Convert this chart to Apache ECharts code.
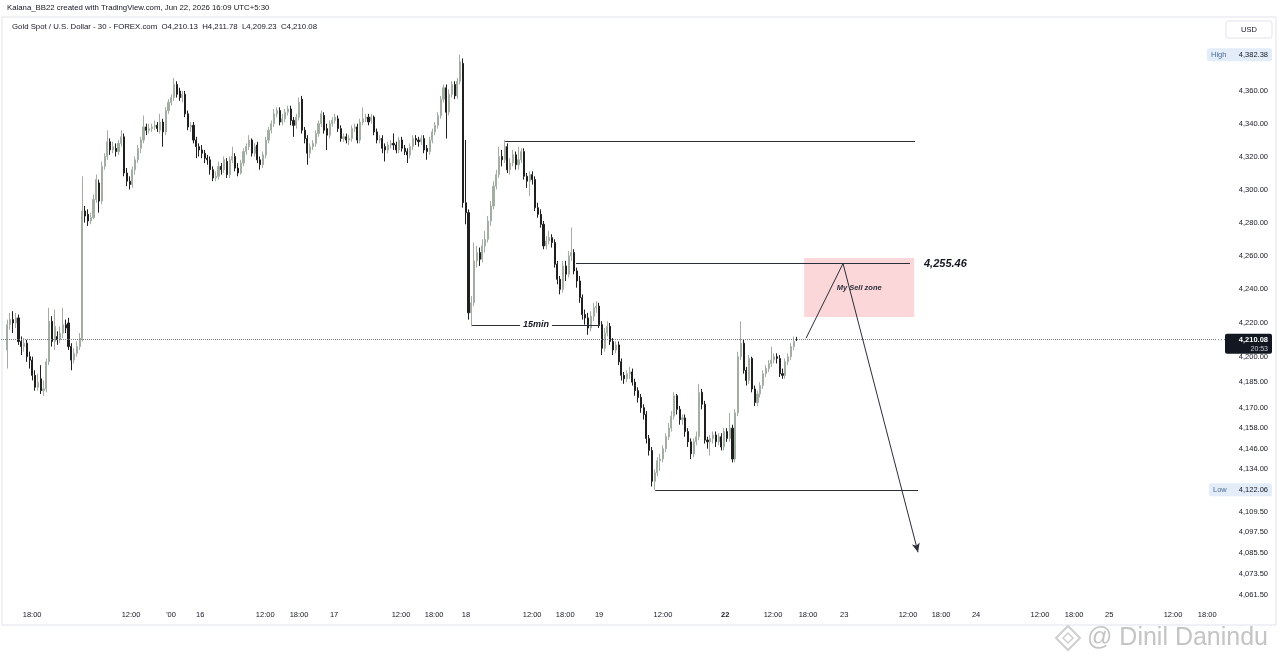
<!DOCTYPE html>
<html>
<head>
<meta charset="utf-8">
<script src="https://cdn.jsdelivr.net/npm/echarts@6.0.0/dist/echarts.min.js"></script>
<style>
html, body { margin: 0; padding: 0; background: #fff; }
#chart { width: 1280px; height: 664px; }
</style>
</head>
<body>
<div id="chart"></div>
<script>
// 30 min candles, [open, close, low, high]
const baseRange = [
  [4204,4219,4193,4222],[4219,4222,4216,4226],[4222,4220,4214,4227],[4220,4223,4217,4226],
  [4223,4209,4207,4225],[4209,4206,4201,4212],[4206,4208,4203,4211],[4208,4200,4197,4210],
  [4200,4198,4193,4203],[4198,4189,4186,4200],[4189,4182,4180,4192],[4182,4185,4180,4190],
  [4187,4180,4178,4195],[4180,4181,4177,4186],[4181,4197,4179,4199],[4197,4221,4195,4229],
  [4221,4209,4206,4224],[4209,4218,4204,4228],[4212,4210,4207,4215],[4210,4214,4208,4218],
  [4214,4219,4211,4229],[4219,4217,4214,4222],[4220,4206,4204,4223],[4206,4198,4192,4208],
  [4198,4202,4196,4205],[4202,4206,4200,4209],[4206,4211,4204,4214]
];
const gapRally = [
  [4211,4287,4209,4308],[4287,4284,4280,4290],[4285,4281,4278,4288],[4281,4283,4279,4286],
  [4283,4294,4282,4297],[4294,4306,4292,4309],[4304,4293,4286,4306],[4293,4314,4291,4317],
  [4314,4320,4312,4322],[4320,4329,4318,4336],[4329,4324,4321,4331],[4324,4326,4322,4329],
  [4325,4323,4320,4328],[4323,4328,4321,4330],[4328,4332,4326,4336],[4332,4310,4308,4334],
  [4310,4305,4302,4313],[4305,4303,4300,4308],[4303,4312,4301,4314],[4312,4318,4309,4320],
  [4318,4325,4316,4327],[4325,4330,4322,4332],[4330,4338,4328,4345],[4338,4336,4333,4340],
  [4336,4337,4334,4340],[4337,4338,4335,4340],[4338,4339,4336,4342],[4339,4337,4335,4341],
  [4336,4341,4334,4346],[4341,4335,4326,4343],[4335,4348,4333,4350],[4348,4353,4346,4355],
  [4353,4356,4351,4358],[4356,4364,4354,4368],[4364,4358,4356,4366],[4360,4356,4354,4362],
  [4356,4358,4353,4360],[4358,4346,4344,4360],[4346,4338,4336,4348],[4338,4339,4335,4341],
  [4339,4330,4328,4341],[4330,4326,4319,4332]
];
const plateau = [
  [4326,4324,4320,4328],[4324,4322,4319,4327],[4322,4319,4316,4324],[4319,4318,4315,4321],
  [4318,4312,4309,4320],[4312,4307,4305,4314],[4307,4308,4305,4311],[4308,4314,4306,4317],
  [4314,4312,4309,4316],[4312,4318,4310,4320],[4317,4309,4307,4319],[4309,4318,4307,4320],
  [4318,4320,4316,4326],[4320,4313,4311,4322],[4313,4310,4308,4316],[4310,4316,4309,4318],
  [4316,4323,4314,4325],[4323,4326,4321,4328],[4326,4330,4324,4333],[4330,4322,4320,4331],
  [4322,4326,4320,4328],[4327,4318,4316,4329],[4318,4315,4312,4320],[4315,4321,4313,4323],
  [4321,4330,4319,4332],[4330,4336,4328,4338],[4336,4340,4334,4342],[4340,4346,4338,4349],
  [4346,4348,4344,4350],[4348,4341,4339,4350],[4341,4343,4339,4346],[4343,4347,4341,4349],
  [4347,4349,4345,4351],[4349,4342,4339,4351],[4342,4339,4332,4344],[4339,4344,4337,4346],
  [4344,4353,4342,4356],[4355,4336,4334,4357],[4336,4331,4328,4338],[4331,4322,4315,4333],
  [4322,4326,4319,4328],[4326,4328,4324,4330],[4328,4334,4326,4336],[4334,4340,4332,4342],
  [4340,4346,4338,4348],[4345,4336,4334,4347],[4337,4333,4324,4340],[4333,4340,4331,4342],
  [4340,4342,4338,4344],[4342,4344,4340,4346],[4343,4337,4335,4345],[4337,4331,4329,4339],
  [4331,4332,4329,4334],[4332,4330,4328,4334],[4330,4331,4327,4333],[4331,4337,4329,4339],
  [4337,4338,4335,4340],[4338,4330,4328,4340],[4330,4341,4328,4343],[4341,4343,4339,4350],
  [4343,4344,4341,4346],[4344,4341,4339,4346],[4342,4344,4340,4346],[4344,4335,4333,4345],
  [4335,4330,4328,4337],[4330,4331,4328,4333],[4331,4325,4322,4333],[4326,4324,4317,4328],
  [4324,4327,4322,4329],[4327,4328,4325,4330],[4328,4327,4324,4334],[4327,4324,4322,4329],
  [4324,4330,4322,4332],[4330,4325,4323,4332],[4325,4323,4321,4327],[4323,4321,4316,4325],
  [4321,4326,4319,4328],[4326,4331,4324,4333],[4331,4330,4327,4333],[4330,4329,4326,4332],
  [4329,4331,4327,4333],[4331,4324,4322,4333],[4325,4323,4318,4327],[4323,4330,4321,4332],
  [4330,4335,4328,4337],[4335,4339,4333,4341],[4339,4345,4337,4347],[4345,4355,4343,4357],
  [4355,4362,4353,4364],[4362,4347,4331,4364],[4347,4358,4345,4361],[4358,4364,4356,4366],
  [4364,4357,4355,4366],[4357,4366,4355,4368],[4366,4378,4364,4382.38]
];
const selloff = [
  [4377,4292,4289,4380],[4292,4286,4279,4330],[4286,4226,4222,4288],[4226,4232,4218,4236],
  [4232,4257,4230,4268],[4257,4262,4253,4266],[4262,4258,4254,4265],[4258,4266,4256,4270],
  [4266,4270,4262,4275],[4270,4281,4268,4284],[4281,4290,4278,4293],[4290,4302,4288,4305],
  [4302,4309,4300,4312],[4309,4320,4307,4326],[4320,4318,4314,4324],[4318,4326,4316,4330],
  [4326,4312,4310,4328],[4312,4316,4309,4319],[4316,4321,4314,4324],[4321,4315,4312,4323],
  [4315,4318,4312,4326],[4318,4323,4316,4325],[4323,4308,4306,4325],[4308,4305,4301,4310],
  [4305,4309,4296,4311],[4309,4306,4303,4311],[4306,4289,4287,4308],[4289,4285,4283,4292],
  [4285,4279,4277,4288],[4279,4266,4264,4281],[4266,4269,4264,4272],[4269,4271,4267,4275],
  [4271,4268,4265,4273],[4268,4255,4253,4270],[4255,4246,4243,4257],[4246,4240,4237,4248],
  [4240,4254,4238,4257],[4254,4249,4245,4257],[4249,4260,4247,4263],[4260,4262,4257,4277],
  [4262,4251,4249,4264],[4251,4245,4241,4253],[4245,4235,4232,4248],[4235,4225,4222,4237],
  [4225,4223,4219,4228],[4223,4217,4213,4226],[4217,4224,4215,4227],[4224,4229,4221,4232],
  [4229,4230,4226,4233]
];
const decline = [
  [4230,4219,4217,4232],[4219,4205,4201,4221],[4205,4214,4203,4217],[4214,4218,4212,4221],
  [4218,4209,4207,4220],[4209,4204,4201,4211],[4204,4207,4202,4209],[4207,4197,4195,4209],
  [4197,4189,4186,4199],[4189,4187,4184,4191],[4187,4190,4185,4192],[4190,4191,4187,4194],
  [4191,4185,4183,4193],[4185,4180,4177,4187],[4180,4176,4173,4182],[4176,4170,4167,4178],
  [4170,4166,4163,4172],[4166,4152,4149,4168],[4152,4145,4142,4154],[4145,4127,4124,4147],
  [4127,4132,4122.06,4134]
];
const rebound = [
  [4132,4139,4130,4141],[4139,4140,4133,4143],[4140,4146,4138,4148],[4146,4153,4144,4155],
  [4153,4158,4151,4161],[4158,4165,4156,4168],[4165,4177,4163,4179],[4177,4169,4166,4178],
  [4169,4163,4160,4171],[4163,4164,4160,4166],[4164,4156,4153,4166],[4156,4150,4147,4158],
  [4150,4143,4140,4152],[4143,4150,4141,4152],[4150,4153,4148,4156],[4153,4179,4151,4184],
  [4179,4172,4169,4181],[4172,4151,4149,4174],[4151,4150,4146,4153],[4150,4152,4142,4154],
  [4152,4154,4149,4156],[4154,4150,4147,4156],[4150,4153,4148,4155],[4153,4147,4145,4155],
  [4147,4156,4145,4158],[4156,4152,4150,4158],[4152,4158,4150,4167],[4158,4140,4138,4160],
  [4140,4167,4138,4169],[4167,4200,4165,4203],[4200,4208,4198,4221],[4208,4192,4190,4210],
  [4192,4186,4183,4194],[4186,4199,4184,4201],[4199,4181,4179,4200],[4181,4173,4171,4183],
  [4173,4178,4171,4180],[4178,4183,4176,4185],[4183,4190,4181,4192],[4190,4193,4188,4195],
  [4193,4196,4191,4198],[4196,4198,4194,4206],[4198,4200,4196,4202],[4200,4199,4196,4202],
  [4199,4190,4188,4201],[4190,4189,4187,4193],[4189,4197,4187,4199],[4197,4200,4195,4202],
  [4200,4206,4198,4208],[4206,4209,4204,4212],[4210.13,4210.08,4209.23,4211.78]
];
const candles = [].concat(baseRange, gapRally, plateau, selloff, decline, rebound);

// price scale labels
const yTickValues = [4360, 4340, 4320, 4300, 4280, 4260, 4240, 4220, 4200, 4185, 4170,
  4158, 4146, 4134, 4109.5, 4097.5, 4085.5, 4073.5, 4061.5];
// time scale labels (position in bar index, text)
const xTickPos = [8.9, 44.5, 58.9, 69.4, 92.8, 105, 117.6, 141.7, 153.6, 165.1, 188.9, 200.8,
  213, 236, 258.4, 275.6, 288.2, 301.2, 324.2, 336.1, 348.7, 371.7, 384, 396.6, 419.6, 431.9];
const xTickText = ['18:00', '12:00', "'00", '16', '12:00', '18:00', '17', '12:00', '18:00', '18',
  '12:00', '18:00', '19', '12:00', '22', '12:00', '18:00', '23', '12:00', '18:00', '24', '12:00',
  '18:00', '25', '12:00', '18:00'];

// drawn levels
const highPrice = 4382.38;
const lowPrice = 4122.06;
const lastClose = 4210.08;
const topLevel = 4329.4;
const sellLevel = 4255.46;
const fifteenLevel = 4218.8;
const fifteenSpan = [167.3, 213.3];
const zoneTop = 4258.7;
const zoneBottom = 4223.5;
const arrowStart = 4211;
const arrowTarget = 4086;

const fmt = v => {
  const parts = v.toFixed(2).split('.');
  return parts[0].replace(/\B(?=(\d{3})+$)/g, ',') + '.' + parts[1];
};

const FONT = 'Liberation Sans';
const chart = echarts.init(document.getElementById('chart'));

chart.setOption({
  animation: false,
  backgroundColor: '#ffffff',
  grid: {left: 1, right: 65, top: 35, bottom: 59},
  xAxis: {
    type: 'value',
    min: -2.3,
    max: 434.7,
    axisLine: {show: false},
    axisTick: {show: false},
    splitLine: {show: false},
    axisLabel: {
      customValues: xTickPos,
      margin: 6,
      color: '#131722',
      fontFamily: FONT,
      fontSize: 7.5,
      formatter: v => {
        const k = xTickPos.findIndex(p => Math.abs(p - v) < 0.01);
        if (k < 0) return '';
        return xTickText[k] === '22' ? '{b|22}' : xTickText[k];
      },
      rich: {b: {fontWeight: 'bold', fontSize: 7.5, fontFamily: FONT, color: '#131722'}}
    }
  },
  yAxis: {
    type: 'log',
    logBase: 10,
    position: 'right',
    min: 4055.8,
    max: 4394.5,
    axisLine: {show: false},
    axisTick: {show: false},
    splitLine: {show: false},
    axisLabel: {
      customValues: yTickValues,
      align: 'right',
      margin: 53,
      color: '#131722',
      fontFamily: FONT,
      fontSize: 7.5,
      formatter: v => fmt(v)
    }
  },
  series: [{
    type: 'candlestick',
    data: candles.map((c, i) => [i, c[0], c[1], c[2], c[3]]),
    encode: {x: 0, y: [1, 2, 3, 4]},
    barWidth: 1.6,
    itemStyle: {
      color: '#a3aea3', color0: '#1f1f1f',
      borderColor: '#a3aea3', borderColor0: '#1f1f1f', borderWidth: 1
    },
    markLine: {
      silent: true,
      animation: false,
      symbol: 'none',
      label: {show: false},
      lineStyle: {color: '#2a2e39', width: 1, type: 'solid'},
      data: [
        {yAxis: lastClose, lineStyle: {type: 'dotted', color: '#787b86', width: 1}},
        [{coord: [179.2, topLevel]}, {coord: [326.7, topLevel]}],
        [{coord: [204.7, sellLevel], label: {
          show: true, position: 'end', distance: 14, formatter: '4,255.46',
          fontFamily: FONT, fontSize: 11, fontWeight: 'bold', fontStyle: 'italic', color: '#131722'
        }}, {coord: [324.9, sellLevel]}],
        [{coord: [fifteenSpan[0], fifteenLevel]}, {coord: [fifteenSpan[1], fifteenLevel]}],
        [{coord: [233.2, lowPrice]}, {coord: [327.8, lowPrice]}],
        [{coord: [287.5, arrowStart]}, {coord: [300.8, sellLevel]}],
        [{coord: [300.8, sellLevel]}, {coord: [327.8, arrowTarget], symbol: 'arrow', symbolSize: [6, 9]}]
      ]
    },
    markArea: {
      silent: true,
      data: [[
        {coord: [286.8, zoneTop], itemStyle: {color: 'rgba(242,54,69,0.2)'}, label: {
          show: true, position: 'inside', formatter: 'My Sell zone',
          fontFamily: FONT, fontSize: 7.5, fontWeight: 'bold', fontStyle: 'italic', color: '#2a2e39'
        }},
        {coord: [326.4, zoneBottom]}
      ]]
    }
  }]
});

// price tags on the right scale, the "15min" tag and page decorations
const py = v => chart.convertToPixel({yAxisIndex: 0}, v);
const px = v => chart.convertToPixel({xAxisIndex: 0}, v);
const yHigh = py(highPrice), yLow = py(lowPrice), yLast = py(lastClose);
const txt = (x, y, s, style) => ({
  type: 'text', x, y, z: 100, silent: true,
  style: Object.assign({text: s, fontFamily: FONT, fontSize: 7.5, fill: '#131722',
    verticalAlign: 'middle', align: 'left'}, style || {})
});
const box = (x, y, w, h, style) => ({
  type: 'rect', z: 99, silent: true, shape: {x, y, width: w, height: h, r: 2}, style
});

chart.setOption({
  graphic: [
    {type: 'rect', silent: true, shape: {x: 2, y: 17, width: 1274, height: 608},
      style: {fill: 'none', stroke: '#e0e3eb', lineWidth: 1}},
    txt(7, 8, 'Kalana_BB22 created with TradingView.com, Jun 22, 2026 16:09 UTC+5:30', {fontSize: 7.8}),
    txt(12, 27, 'Gold Spot / U.S. Dollar - 30 - FOREX.com  O4,210.13  H4,211.78  L4,209.23  C4,210.08', {fontSize: 7.8}),
    box(1226, 21, 46, 17, {fill: '#fff', stroke: '#e0e3eb', lineWidth: 1}),
    txt(1249, 29.5, 'USD', {align: 'center'}),
    txt((px(fifteenSpan[0]) + px(fifteenSpan[1])) / 2, py(fifteenLevel), '15min', {
      align: 'center', fontSize: 9, fontWeight: 'bold', fontStyle: 'italic',
      backgroundColor: '#ffffff', padding: [1, 3]
    }),
    box(1207, yHigh - 6.5, 65, 13, {fill: '#e3edf9'}),
    txt(1211, yHigh, 'High', {fill: '#4a6a96'}),
    txt(1268, yHigh, fmt(highPrice), {align: 'right'}),
    box(1209, yLow - 6.5, 63, 13, {fill: '#e3edf9'}),
    txt(1213, yLow, 'Low', {fill: '#4a6a96'}),
    txt(1268, yLow, fmt(lowPrice), {align: 'right'}),
    {type: 'line', silent: true, shape: {x1: 1215, y1: yLast, x2: 1225, y2: yLast},
      style: {stroke: '#787b86', lineWidth: 1, lineDash: [1, 2]}},
    box(1225, yLast - 6, 47, 20, {fill: '#131722'}),
    txt(1268, yLast, fmt(lastClose), {align: 'right', fill: '#ffffff', fontWeight: 'bold'}),
    txt(1268, yLast + 9.5, '20:53', {align: 'right', fill: '#c9ccd6', fontSize: 7}),
    // watermark
    {type: 'polygon', silent: true, shape: {points: [[1068, 626], [1080, 638], [1068, 650], [1056, 638]]},
      style: {fill: 'none', stroke: '#cfcfcf', lineWidth: 2}},
    {type: 'polygon', silent: true, shape: {points: [[1068, 633], [1073, 638], [1068, 643], [1063, 638]]},
      style: {fill: 'none', stroke: '#cfcfcf', lineWidth: 1.5}},
    txt(1087, 638, '@ Dinil Danindu', {fontSize: 25, fill: '#c4c4c4'})
  ]
});
</script>
</body>
</html>
